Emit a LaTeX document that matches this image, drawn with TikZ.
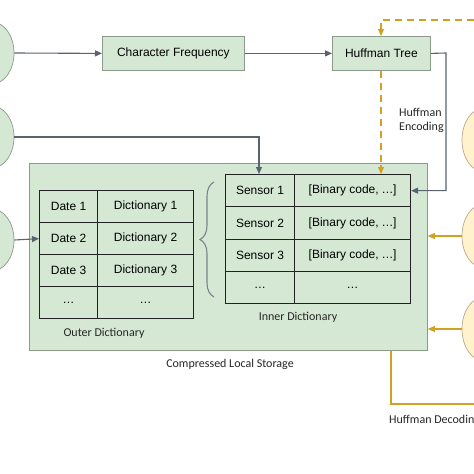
\documentclass[tikz,border=0pt]{standalone}
\usepackage{fontspec}
\setmainfont{Liberation Sans}
\newfontfamily\calfont{Carlito}
\usetikzlibrary{arrows.meta,shapes.geometric,decorations.pathreplacing}
\definecolor{gfill}{HTML}{D5E8D4}
\definecolor{gline}{HTML}{8C9A8C}
\definecolor{yfill}{HTML}{FFF2CC}
\definecolor{yline}{HTML}{B8A98A}
\definecolor{arrg}{HTML}{5A6470}
\definecolor{arry}{HTML}{D4A020}
\definecolor{tline}{HTML}{222222}
\newcommand\mydots{.\kern0.5pt.\kern0.5pt.}
\newcommand\bincode{[Binary code, \mydots]}
\tikzset{
  greenell/.style={ellipse,draw=gline,fill=gfill,minimum width=44pt,minimum height=62pt,inner sep=0pt,line width=0.7pt},
  yellowell/.style={ellipse,draw=yline,fill=yfill,minimum width=44pt,minimum height=64pt,inner sep=0pt,line width=0.7pt},
  procbox/.style={rectangle,draw=gline,fill=gfill,line width=0.8pt,minimum height=34pt,inner sep=0pt,font=\fontsize{12}{14}\selectfont},
  garrow/.style={draw=arrg,line width=1.1pt,-{Triangle[length=7pt,width=6pt]}},
  yarrow/.style={draw=arry,line width=1.1pt,-{Triangle[length=7pt,width=6pt]}},
  ydash/.style={draw=arry,line width=1.1pt,dash pattern=on 7pt off 5pt},
  cellbox/.style={rectangle,draw=tline,line width=1.1pt,minimum height=32.25pt,inner sep=0pt,anchor=north west,font=\fontsize{12}{14}\selectfont},
  lbl/.style={font=\calfont\fontsize{12}{14}\selectfont,text=black!85,inner sep=0pt}
}
\begin{document}
\begin{tikzpicture}[x=1pt,y=-1pt]
\useasboundingbox (0,0) rectangle (474,474);
\fill[white] (0,0) rectangle (474,474);
\clip (0,0) rectangle (474,474);

% container
\node[rectangle,draw=gline,fill=gfill,line width=0.8pt,minimum width=398pt,minimum height=187pt,inner sep=0pt,anchor=north west] (store) at (29,163) {};

% left ellipses
\node[greenell] (e1) at (-8,53) {};
\node[greenell] (e2) at (-8,137) {};
\node[greenell] (e3) at (-8,240) {};
% right ellipses
\node[yellowell] (r1) at (484,140) {};
\node[yellowell] (r2) at (484,236) {};
\node[yellowell] (r3) at (484,329) {};

% process boxes
\node[procbox,minimum width=142pt,anchor=north west] (cf) at (102,36) {Character Frequency};
\node[procbox,minimum width=98pt,anchor=north west] (ht) at (332,36) {Huffman Tree};

% outer table
\node[cellbox,minimum width=58pt] (oa0) at (39,190) {Date 1};
\node[cellbox,minimum width=96pt] (ob0) at (97,190) {Dictionary 1};
\node[cellbox,minimum width=58pt] (oa1) at (39,222) {Date 2};
\node[cellbox,minimum width=96pt] (ob1) at (97,222) {Dictionary 2};
\node[cellbox,minimum width=58pt] (oa2) at (39,254) {Date 3};
\node[cellbox,minimum width=96pt] (ob2) at (97,254) {Dictionary 3};
\node[cellbox,minimum width=58pt] (oa3) at (39,286) {\mydots};
\node[cellbox,minimum width=96pt] (ob3) at (97,286) {\mydots};

% inner table
\node[cellbox,minimum width=69pt] (ia0) at (225,174) {Sensor 1};
\node[cellbox,minimum width=116pt] (ib0) at (294,174) {\bincode};
\node[cellbox,minimum width=69pt] (ia1) at (225,206.25) {Sensor 2};
\node[cellbox,minimum width=116pt] (ib1) at (294,206.25) {\bincode};
\node[cellbox,minimum width=69pt] (ia2) at (225,238.5) {Sensor 3};
\node[cellbox,minimum width=116pt] (ib2) at (294,238.5) {\bincode};
\node[cellbox,minimum width=69pt] (ia3) at (225,270.75) {\mydots};
\node[cellbox,minimum width=116pt] (ib3) at (294,270.75) {\mydots};

% brace
\draw[draw=arrg!80,line width=1.1pt,decorate,decoration={brace,amplitude=14pt,aspect=0.5}] (214,297) -- (214,182);

% labels
\node[lbl] (ol) at (104,333) {Outer Dictionary};
\node[lbl] (il) at (298,317) {Inner Dictionary};
\node[lbl] (sl) at (230,364) {Compressed Local Storage};
\node[lbl,align=left,anchor=north west] (hel) at (399,108) {Huffman\\Encoding};
\node[lbl,anchor=west] (hdl) at (389,420) {Huffman Decoding};

% connectors
\draw[garrow] (e1.east) -- (cf.west);
\draw[garrow] (cf.east) -- (ht.west);
\draw[garrow] (e2.east) -| (ia0.north -| 259,0);
\draw[garrow] (e3.east) -- (oa1.west);
\draw[garrow] (ht.east) -- (446,53) |- (ib0.east);

\coordinate (topr) at (474,20);
\draw[ydash] (topr) -| (381,30);
\draw[draw=arry,line width=1.1pt,-{Triangle[length=7pt,width=6pt]}] (381,28) -- (ht.north -| 381,0);
\draw[ydash] (ht.south -| 381,0) -- (381,167);
\draw[draw=arry,line width=1.1pt,-{Triangle[length=7pt,width=6pt]}] (381,165) -- (ib0.north -| 381,0);

\draw[yarrow] (r2.west) -- (store.east |- r2.west);
\draw[yarrow] (r3.west) -- (store.east |- r3.west);
\coordinate (botr) at (474,404);
\draw[draw=arry,line width=1.1pt] (store.south -| 391,0) -- (391,404) -- (botr);
\end{tikzpicture}
\end{document}
